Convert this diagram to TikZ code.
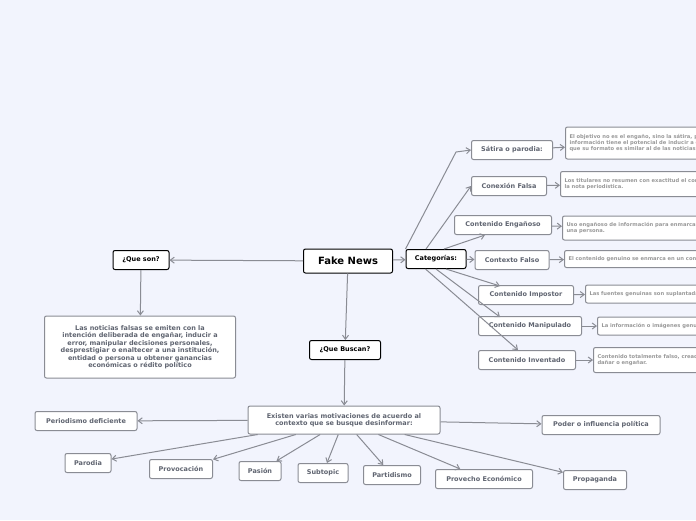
\documentclass[tikz,border=0pt]{standalone}
\usepackage{fontspec}
\setmainfont{DejaVu Sans}
\usetikzlibrary{arrows.meta}
\definecolor{bg}{HTML}{F2F4FD}
\definecolor{ln}{HTML}{8A8C94}
\definecolor{tx}{HTML}{5F6470}
\begin{document}
\begin{tikzpicture}[x=1pt,y=-1pt,
  box/.style={draw=ln,line width=1pt,fill=white,rounded corners=2pt,font=\fontsize{6.5}{7.5}\selectfont\bfseries,text=tx,inner xsep=5pt,minimum height=19pt},
  main/.style={box,draw=black,text=black},
  desc/.style={box,font=\fontsize{5.2}{6.2}\selectfont\bfseries,text=gray!80,align=left,anchor=west,inner xsep=4pt},
  arr/.style={draw=ln,line width=1pt,-{Straight Barb[length=4pt,width=6pt]}}]
\fill[bg] (0,0) rectangle (696,520);
\clip (0,0) rectangle (696,520);
\node[main,font=\fontsize{10}{12}\selectfont\bfseries,minimum width=89pt,minimum height=24pt] (fn) at (348,261) {Fake News};
\node[main,minimum width=60pt] (cat) at (436,259) {Categorías:};
\node[main,minimum width=56pt] (qs) at (141,260) {¿Que son?};
\node[main,minimum width=71pt] (qb) at (345,350) {¿Que Buscan?};
\node[box,minimum width=191pt,minimum height=62pt,align=center] (def) at (140,347) {Las noticias falsas se emiten con la\\intención deliberada de engañar, inducir a\\error, manipular decisiones personales,\\desprestigiar o enaltecer a una institución,\\entidad o persona u obtener ganancias\\económicas o rédito político};
\node[box,minimum width=192pt,minimum height=28pt,align=center] (ex) at (344,420) {Existen varias motivaciones de acuerdo al\\contexto que se busque desinformar:};
\node[box,minimum width=102pt] (pd) at (86,421) {Periodismo deficiente};
\node[box,minimum width=118pt] (po) at (601,425) {Poder o influencia política};
\node[box,minimum width=46pt] (pa) at (88,463) {Parodia};
\node[box,minimum width=63pt] (pv) at (181,469) {Provocación};
\node[box,minimum width=42pt] (ps) at (260,471) {Pasión};
\node[box,minimum width=50pt] (st) at (323,473) {Subtopic};
\node[box,minimum width=57pt] (pt) at (392,475) {Partidismo};
\node[box,minimum width=97pt] (pe) at (484,479) {Provecho Económico};
\node[box,minimum width=63pt] (pg) at (595,480) {Propaganda};
\node[box,minimum width=81pt] (c1) at (512,150) {Sátira o parodia:};
\node[box,minimum width=75pt] (c2) at (509,186) {Conexión Falsa};
\node[box,minimum width=97pt] (c3) at (503,225) {Contenido Engañoso};
\node[box,minimum width=74pt] (c4) at (512,260) {Contexto Falso};
\node[box,minimum width=95pt] (c5) at (526,295) {Contenido Impostor};
\node[box,minimum width=103pt] (c6) at (530,326) {Contenido Manipulado};
\node[box,minimum width=97pt] (c7) at (527,360) {Contenido Inventado};
\node[desc,minimum height=32pt] (d1) at (565,143) {El objetivo no es el engaño, sino la sátira, pero la\\información tiene el potencial de inducir a error ya\\que su formato es similar al de las noticias};
\node[desc,minimum height=25pt] (d2) at (560,184) {Los titulares no resumen con exactitud el contenido de\\la nota periodística.};
\node[desc,minimum height=24pt] (d3) at (562,228) {Uso engañoso de información para enmarcar un tema o\\una persona.};
\node[desc,minimum height=17pt] (d4) at (564,259) {El contenido genuino se enmarca en un contexto falso};
\node[desc,minimum height=18pt] (d5) at (585,294) {Las fuentes genuinas son suplantadas};
\node[desc,minimum height=18pt] (d6) at (597,326) {La información o imágenes genuinas se manipulan};
\node[desc,minimum height=25pt] (d7) at (593,360) {Contenido totalmente falso, creado para\\dañar o engañar.};
\draw[arr] (fn) -- (qs);
\draw[arr] (fn) -- (cat);
\draw[arr] (fn) -- (qb);
\draw[arr] (qs) -- (def);
\draw[arr] (qb) -- (ex);
\draw[arr] (ex) -- (pd);
\draw[arr] (ex) -- (po);
\foreach \n in {pa,pv,ps,st,pt,pe,pg} \draw[arr] (ex) -- (\n);
\draw[arr] (cat.north west) -- (456,152) -- (c1.west);
\draw[arr] (cat.north) ++(-10,0) -- (c2.west);
\draw[arr] (cat.north) ++(8,0) -- (485,235);
\draw[arr] (cat) -- (c4);
\draw[arr] (cat.south) ++(10,0) -- (500,286);
\draw[arr] (cat.south) ++(0,0) -- (500,317);
\draw[arr] (cat.south west) ++(20,0) -- (518,350);
\foreach \i in {1,...,7} \draw[arr] (c\i) -- (d\i);
\end{tikzpicture}
\end{document}
